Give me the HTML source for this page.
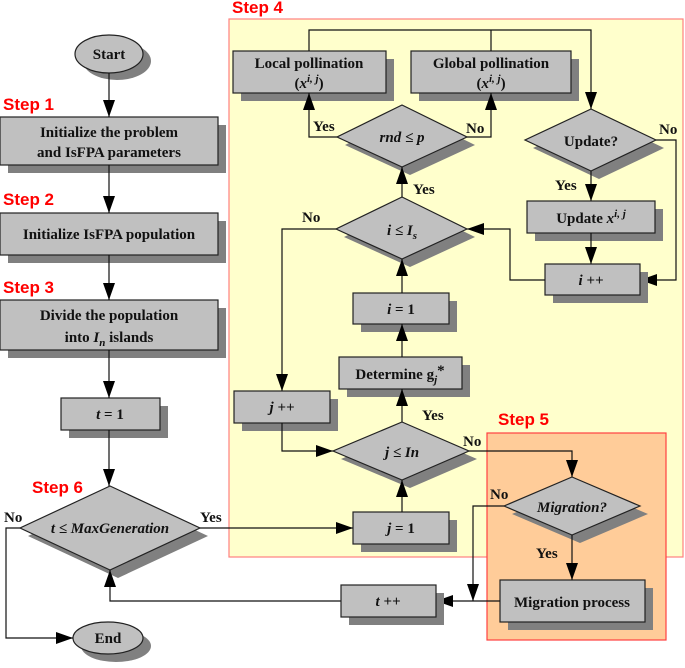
<!DOCTYPE html>
<html><head><meta charset="utf-8"><style>
html,body{margin:0;padding:0;background:#fff}
svg{display:block}
.t{font-family:"Liberation Serif",serif;font-weight:bold;font-size:15px;fill:#111;text-anchor:middle}
.l{font-family:"Liberation Serif",serif;font-weight:bold;font-size:15px;fill:#111}
.s{font-family:"Liberation Sans",sans-serif;font-weight:bold;font-size:17px;fill:#ff0000}
.b{fill:#c0c0c0;stroke:#222;stroke-width:1.2}
.sh{fill:#808080}
.ln{fill:none;stroke:#111;stroke-width:1.2}
</style></head><body>
<svg width="685" height="668" viewBox="0 0 685 668" xmlns="http://www.w3.org/2000/svg">
<defs><marker id="a" markerWidth="10" markerHeight="10" refX="9" refY="5" orient="auto" markerUnits="userSpaceOnUse" viewBox="0 0 10 10"><path d="M0,0 L10,5 L0,10 z" fill="#000"/></marker>
<marker id="A" markerWidth="17" markerHeight="12" refX="17" refY="6" orient="auto" markerUnits="userSpaceOnUse"><path d="M0,0 L17,6 L0,12 z" fill="#000"/></marker></defs>

<rect x="229" y="19" width="454" height="538" fill="#ffffcc" stroke="#ff8080" stroke-width="1.2"/>
<rect x="487" y="433" width="179" height="207" fill="#ffcc99" stroke="#ff4040" stroke-width="1.2"/>
<text class="s" x="232" y="13">Step 4</text>
<text class="s" x="498" y="425">Step 5</text>
<text class="s" x="3" y="110">Step 1</text>
<text class="s" x="3" y="205">Step 2</text>
<text class="s" x="3" y="293">Step 3</text>
<text class="s" x="32" y="493">Step 6</text>

<!-- left column -->
<ellipse class="sh" cx="117" cy="61" rx="34" ry="19"/>
<ellipse class="b" cx="109" cy="54" rx="34" ry="19"/>
<text class="t" x="109" y="59">Start</text>
<rect class="sh" x="8" y="125" width="218" height="48"/>
<rect class="b" x="0" y="117" width="218" height="48"/>
<text class="t" x="109" y="137">Initialize the problem</text>
<text class="t" x="109" y="157">and IsFPA parameters</text>
<rect class="sh" x="8" y="221" width="218" height="42"/>
<rect class="b" x="0" y="213" width="218" height="42"/>
<text class="t" x="109" y="239">Initialize IsFPA population</text>
<rect class="sh" x="8" y="308" width="218" height="50"/>
<rect class="b" x="0" y="300" width="218" height="50"/>
<text class="t" x="109" y="320">Divide the population</text>
<text class="t" x="109" y="342">into <tspan font-style="italic">I<tspan font-size="11" dy="4">n</tspan></tspan><tspan dy="-4"> islands</tspan></text>
<rect class="sh" x="69" y="406" width="99" height="32"/>
<rect class="b" x="61" y="398" width="99" height="32"/>
<text class="t" x="110" y="419"><tspan font-style="italic">t</tspan> = 1</text>
<polygon class="sh" points="118,494 208,536 118,578 28,536"/>
<polygon class="b" points="110,486 200,528 110,570 20,528"/>
<text class="t" x="110" y="533" font-style="italic">t ≤ MaxGeneration</text>
<ellipse class="sh" cx="116" cy="646" rx="35" ry="16"/>
<ellipse class="b" cx="108" cy="638" rx="35" ry="16"/>
<text class="t" x="108" y="643">End</text>
<text class="l" x="4" y="522">No</text>
<text class="l" x="200" y="522">Yes</text>

<line class="ln" x1="109" y1="73" x2="109" y2="117" marker-end="url(#A)"/>
<line class="ln" x1="109" y1="165" x2="109" y2="213" marker-end="url(#A)"/>
<line class="ln" x1="109" y1="255" x2="109" y2="300" marker-end="url(#A)"/>
<line class="ln" x1="109" y1="350" x2="109" y2="398" marker-end="url(#A)"/>
<line class="ln" x1="109" y1="430" x2="109" y2="486" marker-end="url(#A)"/>
<polyline class="ln" points="20,528 6,528 6,638 73,638" marker-end="url(#A)"/>
<polyline class="ln" points="200,528 353,528" marker-end="url(#A)"/>
<polyline class="ln" points="341,601 110,601 110,570" marker-end="url(#A)"/>

<!-- step 4 -->
<rect class="sh" x="241" y="59" width="153" height="42"/>
<rect class="b" x="233" y="51" width="153" height="42"/>
<text class="t" x="309" y="68">Local pollination</text>
<text class="t" x="309" y="88">(<tspan font-style="italic">x<tspan font-size="11" dy="-6">i, j</tspan></tspan><tspan dy="6">)</tspan></text>
<rect class="sh" x="419" y="59" width="160" height="42"/>
<rect class="b" x="411" y="51" width="160" height="42"/>
<text class="t" x="491" y="68">Global pollination</text>
<text class="t" x="491" y="88">(<tspan font-style="italic">x<tspan font-size="11" dy="-6">i, j</tspan></tspan><tspan dy="6">)</tspan></text>
<polyline class="ln" points="309,51 309,30 591,30 591,109" marker-end="url(#A)"/>
<line class="ln" x1="491" y1="30" x2="491" y2="51"/>

<polygon class="sh" points="410,113 475,145 410,175 345,145"/>
<polygon class="b" points="402,105 467,137 402,167 337,137"/>
<text class="t" x="402" y="142" font-style="italic">rnd ≤ p</text>
<polyline class="ln" points="337,137 309,137 309,93" marker-end="url(#A)"/>
<polyline class="ln" points="467,137 491,137 491,93" marker-end="url(#A)"/>
<text class="l" x="313" y="131">Yes</text>
<text class="l" x="466" y="133">No</text>

<polygon class="sh" points="599,117 664,148 599,179 533,148"/>
<polygon class="b" points="591,109 656,140 591,171 525,140"/>
<text class="t" x="591" y="146">Update?</text>
<text class="l" x="659" y="134">No</text>
<polyline class="ln" points="656,140 676,140 676,280 640,280" marker-end="url(#A)"/>
<text class="l" x="555" y="190">Yes</text>
<line class="ln" x1="591" y1="171" x2="591" y2="201" marker-end="url(#A)"/>
<rect class="sh" x="535" y="209" width="128" height="32"/>
<rect class="b" x="527" y="201" width="128" height="32"/>
<text class="t" x="591" y="223">Update <tspan font-style="italic">x<tspan font-size="11" dy="-6">i, j</tspan></tspan></text>
<line class="ln" x1="591" y1="233" x2="591" y2="264" marker-end="url(#A)"/>
<rect class="sh" x="553" y="272" width="95" height="31"/>
<rect class="b" x="545" y="264" width="95" height="31"/>
<text class="t" x="591" y="285" font-style="italic">i ++</text>
<polyline class="ln" points="545,280 510,280 510,229 467,229" marker-end="url(#A)"/>

<polygon class="sh" points="410,205 475,237 410,267 344,237"/>
<polygon class="b" points="402,197 467,229 402,259 336,229"/>
<text class="t" x="402" y="235" font-style="italic">i ≤ I<tspan font-size="11" dy="4">s</tspan></text>
<line class="ln" x1="402" y1="197" x2="402" y2="167" marker-end="url(#A)"/>
<text class="l" x="413" y="194">Yes</text>
<text class="l" x="302" y="222">No</text>
<polyline class="ln" points="336,229 282,229 282,391" marker-end="url(#A)"/>

<rect class="sh" x="361" y="301" width="96" height="31"/>
<rect class="b" x="353" y="293" width="96" height="31"/>
<text class="t" x="401" y="314" font-style="italic">i <tspan font-style="normal">= 1</tspan></text>
<line class="ln" x1="402" y1="293" x2="402" y2="259" marker-end="url(#A)"/>
<rect class="sh" x="347" y="365" width="123" height="32"/>
<rect class="b" x="339" y="357" width="123" height="32"/>
<text class="t" x="400" y="379">Determine g<tspan font-style="italic" font-size="11" dy="4">j</tspan><tspan dy="-8">*</tspan></text>
<line class="ln" x1="402" y1="357" x2="402" y2="324" marker-end="url(#A)"/>
<rect class="sh" x="242" y="399" width="96" height="32"/>
<rect class="b" x="234" y="391" width="96" height="32"/>
<text class="t" x="282" y="412" font-style="italic">j ++</text>
<polyline class="ln" points="282,423 282,451 333,451" marker-end="url(#A)"/>

<polygon class="sh" points="410,430 477,459 410,488 341,459"/>
<polygon class="b" points="402,422 469,451 402,480 333,451"/>
<text class="t" x="402" y="457" font-style="italic">j  ≤  In</text>
<line class="ln" x1="402" y1="422" x2="402" y2="389" marker-end="url(#A)"/>
<text class="l" x="422" y="420">Yes</text>
<text class="l" x="463" y="446">No</text>
<polyline class="ln" points="469,451 572,451 572,477" marker-end="url(#A)"/>

<rect class="sh" x="361" y="520" width="96" height="32"/>
<rect class="b" x="353" y="512" width="96" height="32"/>
<text class="t" x="401" y="533" font-style="italic">j <tspan font-style="normal">= 1</tspan></text>
<line class="ln" x1="402" y1="512" x2="402" y2="480" marker-end="url(#A)"/>

<!-- step 5 -->
<polygon class="sh" points="580,485 648,514 580,543 512,514"/>
<polygon class="b" points="572,477 640,506 572,535 504,506"/>
<text class="t" x="572" y="512" font-style="italic">Migration?</text>
<text class="l" x="490" y="499">No</text>
<polyline class="ln" points="504,506 473,506 473,601" marker-end="url(#A)"/>
<text class="l" x="536" y="558">Yes</text>
<line class="ln" x1="572" y1="535" x2="572" y2="580" marker-end="url(#A)"/>
<rect class="sh" x="508" y="588" width="145" height="42"/>
<rect class="b" x="500" y="580" width="145" height="42"/>
<text class="t" x="572" y="607">Migration process</text>
<line class="ln" x1="500" y1="601" x2="436" y2="601" marker-end="url(#A)"/>
<rect class="sh" x="349" y="593" width="95" height="32"/>
<rect class="b" x="341" y="585" width="95" height="32"/>
<text class="t" x="388" y="606" font-style="italic">t ++</text>
</svg>
</body></html>
